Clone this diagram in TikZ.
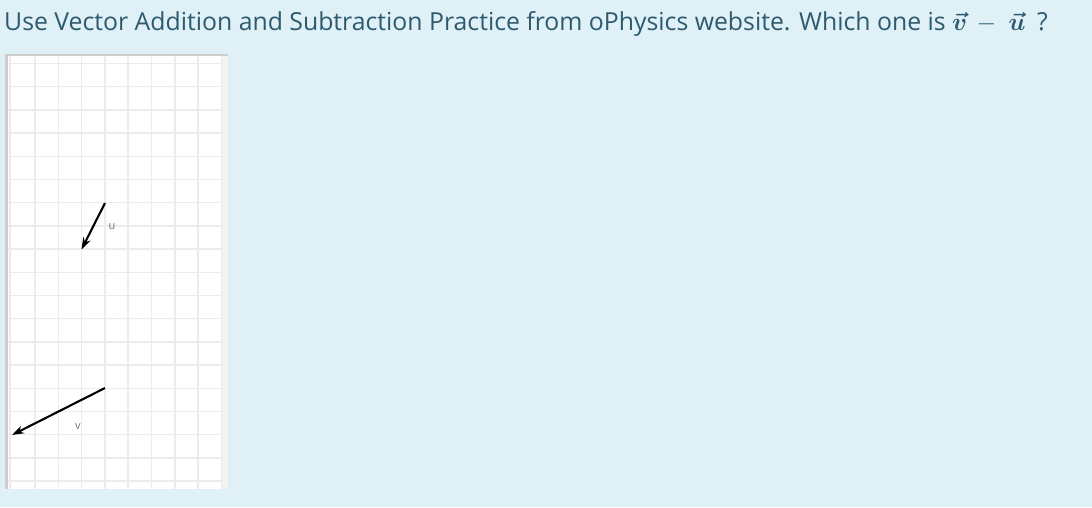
\documentclass[tikz,border=0pt]{standalone}
\usepackage{fontspec}
\usepackage{amsmath}
\newfontfamily\uifont{Open Sans}
\usetikzlibrary{arrows.meta, positioning, calc}

\definecolor{PageBg}{RGB}{223,240,247}
\definecolor{TitleText}{RGB}{45,90,110}
\definecolor{GridGray}{RGB}{236,236,236}
\definecolor{RimGray}{RGB}{205,205,205}
\definecolor{StripGray}{RGB}{243,243,243}

\begin{document}
\begin{tikzpicture}[x=1pt, y=-1pt]
    \tikzset{VecArrow/.style = {line width=2.1pt, -{Stealth[length=12pt, width=8pt]}, color=black}}
    \tikzset{GridLine/.style = {line width=1.5pt, color=GridGray}}
    \tikzset{VecLabel/.style = {font=\uifont\fontsize{11}{12}\selectfont, text=black!55, inner sep=0pt}}
    \fill[color=PageBg] (0, 0) rectangle (1092, 507);
    \useasboundingbox (0, 0) rectangle (1092, 507);
    \node[anchor=base west, inner sep=0pt, text=TitleText, font=\uifont\fontsize{24.8}{28}\selectfont] (title) at (4, 30) {Use Vector Addition and Subtraction Practice from oPhysics website. Which one is {\fontsize{30}{32}\selectfont$\boldsymbol{\vec{v}}\,-\;\boldsymbol{\vec{u}}$\,} ?};
    % grid panel
    \fill[color=white] (5, 54) rectangle (228, 489);
    \fill[color=StripGray] (222, 54) rectangle (228, 489);
    \foreach \gx in {0,...,8}
        \draw[GridLine] ({35+23.3*\gx}, 56) -- ({35+23.3*\gx}, 489);
    \draw[GridLine] (10, 56) -- (10, 489);
    \foreach \gy in {0,...,18}
        \draw[GridLine] (8, {63.5+23.2*\gy}) -- (222, {63.5+23.2*\gy});
    \fill[color=RimGray] (5, 54) rectangle (8, 489);
    \fill[color=RimGray] (5, 54) rectangle (228, 56);
    % vectors
    \coordinate (uTail) at (105, 203);
    \coordinate (uHead) at (81.5, 249.5);
    \coordinate (vTail) at (105, 388);
    \coordinate (vHead) at (12, 435);
    \draw[VecArrow] (uTail) -- (uHead);
    \draw[VecArrow] (vTail) -- (vHead);
    \node[VecLabel] (uLabel) at (112, 227) {u};
    \node[VecLabel] (vLabel) at (78, 427) {v};
\end{tikzpicture}
\end{document}
